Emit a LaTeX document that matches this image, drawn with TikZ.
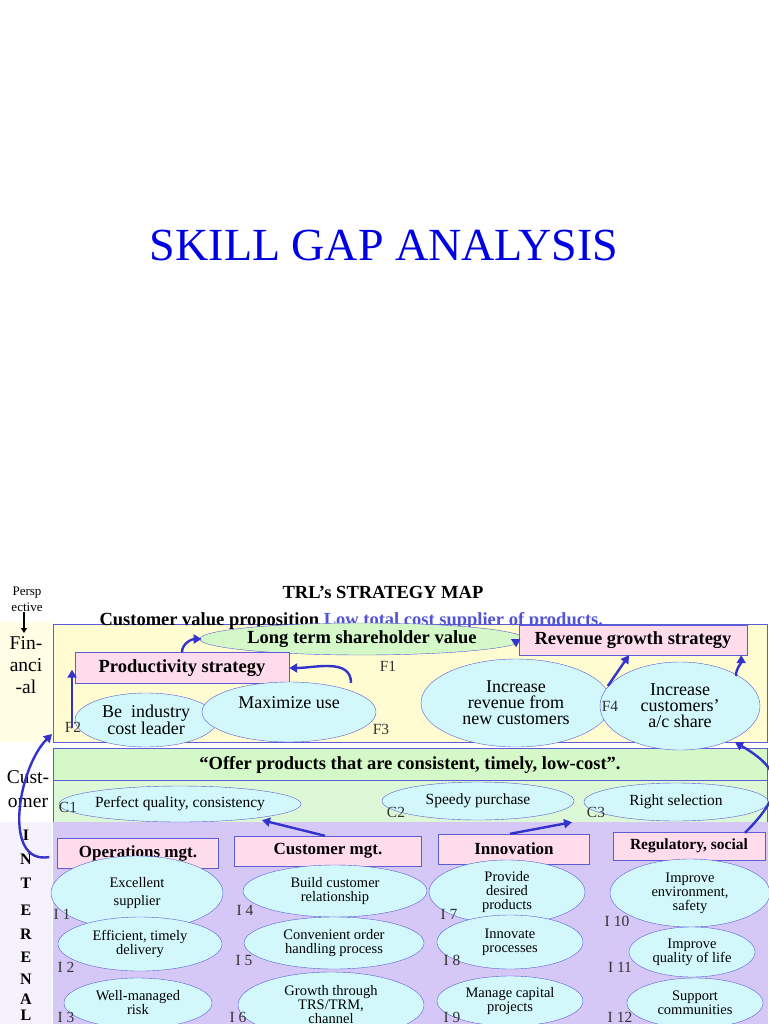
\documentclass[tikz,border=0pt]{standalone}
\usepackage{fontspec}
\setmainfont{Liberation Serif}
\usetikzlibrary{arrows.meta,shapes.geometric}
\definecolor{bl}{HTML}{3333CC}
\definecolor{yel}{HTML}{FFFCD2}
\definecolor{grn}{HTML}{D4F8C8}
\definecolor{lgr}{HTML}{DDF8D6}
\definecolor{lav}{HTML}{D6C8F6}
\definecolor{pnk}{HTML}{FFDCEB}
\definecolor{cya}{HTML}{D2F8FC}
\begin{document}
\begin{tikzpicture}[x=1pt,y=-1pt,
 ell/.style={draw=bl!80,fill=cya,ellipse,inner sep=0pt,align=center,font=\fontsize{18}{16}\selectfont},
 sell/.style={draw=bl!80,fill=cya,ellipse,inner sep=0pt,align=center,font=\fontsize{14.5}{14}\selectfont},
 hbox/.style={draw=bl!80,fill=pnk,inner sep=0pt,font=\bfseries\fontsize{18.5}{18}\selectfont},
 lbl/.style={font=\fontsize{15.5}{15}\selectfont,text=black!80},
 arr/.style={bl,line width=2.4pt,-{Triangle[length=8pt,width=9pt]}}]
\useasboundingbox (0,0) rectangle (768,1024);
\fill[white] (0,0) rectangle (768,1024);
\node (title) at (384,245) {\textcolor{blue!90!black}{\fontsize{46}{46}\selectfont SKILL GAP ANALYSIS}};
% left column
\fill[yel!60] (0,622) rectangle (52,742);
\fill[lav!25] (0,822) rectangle (52,1024);
\node[align=center,font=\fontsize{13}{16}\selectfont] (persp) at (27,599) {Persp\\ective};
\coordinate (pa) at (24,612); \coordinate (pb) at (24,633);
\draw[line width=1.4pt,-{Triangle[length=5pt,width=6pt]}] (pa) -- (pb);
\node[align=center,font=\fontsize{19.5}{22}\selectfont] (fin) at (26,665) {Fin-\\anci\\-al};
\node[align=center,font=\fontsize{19.5}{24}\selectfont] (cus) at (28,789) {Cust-\\omer};
\foreach \l/\yy in {I/835,N/859,T/883,E/910,R/934,E/957,N/979,A/999,L/1015}
  \node[font=\bfseries\fontsize{16}{16}\selectfont] at (26,\yy) {\l};
% title texts
\node[font=\bfseries\fontsize{18.5}{18}\selectfont] (tsm) at (383,592) {TRL’s STRATEGY MAP};
% boxes
\draw[bl!80,fill=yel] (53,624) rectangle (767,742);
\node[font=\bfseries\fontsize{18.5}{18}\selectfont,anchor=west] (cvp) at (96,621) {Customer value proposition \textcolor{bl!85}{Low total cost supplier of products.}};
\draw[bl!80,fill=lgr] (53,748) rectangle (767,822);
\draw[bl!80,fill=grn] (53,748) rectangle (767,780);
\node[font=\bfseries\fontsize{18.5}{18}\selectfont] (quote) at (410,765) {“Offer products that are consistent, timely, low-cost”.};
\fill[lav] (53,822) rectangle (768,1024);
% financial
\node[ell,fill=grn,font=\bfseries\fontsize{18.5}{18}\selectfont,minimum width=282,minimum height=32] (ltsv) at (362,639) {Long term shareholder value};
\node[hbox,minimum width=228,minimum height=30] (rgs) at (633,640) {Revenue growth strategy};
\node[hbox,minimum width=214,minimum height=31] (ps) at (182,668) {Productivity strategy};
\node[ell,minimum width=142,minimum height=54] (bicl) at (146,720) {Be\ \ industry\\cost leader};
\node[ell,minimum width=174,minimum height=60] (mu) at (289,712) {Maximize use\\[3pt]};
\node[ell,minimum width=190,minimum height=88] (irn) at (516,703) {Increase\\revenue from\\new customers};
\node[ell,minimum width=160,minimum height=88] (ics) at (680,706) {Increase\\customers’\\a/c share};
\node[lbl] at (388,666) {F1};
\node[lbl] at (73,727) {F2};
\node[lbl] at (381,729) {F3};
\node[lbl] at (610,706) {F4};
% customer
\node[ell,font=\fontsize{15.5}{15}\selectfont,minimum width=242,minimum height=36] (c1) at (180,804) {Perfect quality, consistency};
\node[ell,font=\fontsize{15.5}{15}\selectfont,minimum width=192,minimum height=38] (c2) at (478,801) {Speedy purchase};
\node[ell,font=\fontsize{15.5}{15}\selectfont,minimum width=184,minimum height=38] (c3) at (676,802) {Right selection};
\node[lbl] at (68,807) {C1};
\node[lbl] at (396,812) {C2};
\node[lbl] at (596,812) {C3};
% internal headers
\node[hbox,font=\bfseries\fontsize{17}{17}\selectfont,minimum width=161,minimum height=30] (ops) at (138,853) {Operations mgt.};
\node[hbox,font=\bfseries\fontsize{17}{17}\selectfont,minimum width=187,minimum height=30] (cm) at (328,851) {Customer mgt.};
\node[hbox,font=\bfseries\fontsize{17}{17}\selectfont,minimum width=151,minimum height=30] (inn) at (514,849) {Innovation};
\node[hbox,font=\bfseries\fontsize{15.5}{15}\selectfont,minimum width=152,minimum height=28] (reg) at (689,846) {Regulatory, social};
% internal ellipses
\node[sell,minimum width=172,minimum height=74] (i1) at (137,893) {Excellent\\[4pt]supplier};
\node[sell,minimum width=164,minimum height=54] (i2) at (140,944) {Efficient, timely\\delivery};
\node[sell,minimum width=148,minimum height=50] (i3) at (138,1003) {Well-managed\\risk};
\node[sell,minimum width=184,minimum height=52] (i4) at (335,891) {Build customer\\relationship};
\node[sell,minimum width=180,minimum height=52] (i5) at (334,943) {Convenient order\\handling process};
\node[sell,minimum width=186,minimum height=66] (i6) at (331,1005) {Growth through\\TRS/TRM,\\channel};
\node[sell,minimum width=156,minimum height=64] (i7) at (507,892) {Provide\\desired\\products};
\node[sell,minimum width=146,minimum height=54] (i8) at (510,942) {Innovate\\processes};
\node[sell,minimum width=146,minimum height=50] (i9) at (510,1001) {Manage capital\\projects};
\node[sell,minimum width=160,minimum height=68] (i10) at (690,893) {Improve\\environment,\\safety};
\node[sell,minimum width=126,minimum height=50] (i11) at (692,952) {Improve\\quality of life};
\node[sell,minimum width=136,minimum height=50] (i12) at (695,1003) {Support\\communities};
\foreach \t/\xx/\yy in {I 1/62/914,I 2/66/967,I 3/66/1017,I 4/245/910,I 5/244/960,I 6/238/1017,I 7/449/914,I 8/452/960,I 9/452/1017,I 10/617/921,I 11/620/967,I 12/620/1017}
  \node[lbl] at (\xx,\yy) {\t};
% arrows
\draw[arr] (ps.north) to[out=90,in=180] ([xshift=2pt]ltsv.west);
\draw[arr] ([xshift=62pt,yshift=-1pt]mu.north) to[out=90,in=0] (ps.east);
\draw[arr] ([xshift=-110pt,yshift=-44pt]ps.south) -- ([xshift=-110pt,yshift=14pt]ps.south);
\draw[arr] (rgs.west) -- ([xshift=-4pt]ltsv.east);
\draw[arr] ([xshift=8pt,yshift=20pt]ics.west) -- ([xshift=-4pt]rgs.south);
\draw[arr] ([xshift=56pt,yshift=30pt]ics.center) to[out=90,in=-90] ([xshift=-6pt]rgs.south east);
\coordinate (fl) at (52,734);
\draw[arr] ([xshift=-8pt,yshift=-4pt]ops.west) to[out=190,in=-135,looseness=1] (fl);
\draw[arr] ([xshift=56pt,yshift=-1pt]reg.north) to[out=45,in=-30,looseness=1.6] ([xshift=55pt,yshift=8pt]ics.south);
\draw[arr] ([xshift=-3pt]cm.north) -- ([xshift=82pt,yshift=2pt]c1.south);
\draw[arr] ([xshift=-4pt]inn.north) -- ([xshift=94pt,yshift=-2pt]c2.south);
\end{tikzpicture}
\end{document}
